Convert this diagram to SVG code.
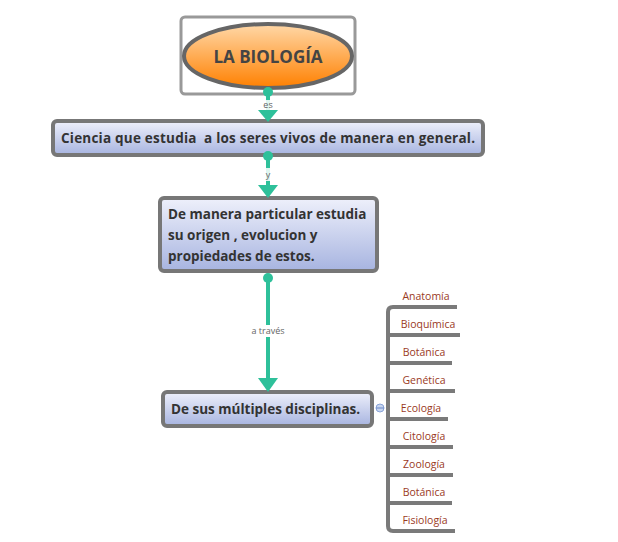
<svg xmlns="http://www.w3.org/2000/svg" width="618" height="542" viewBox="0 0 618 542">
<defs>
<linearGradient id="og" x1="0" y1="0" x2="0" y2="1"><stop offset="0" stop-color="#ffd8a8"/><stop offset="1" stop-color="#ff8000"/></linearGradient>
<linearGradient id="bg" x1="0" y1="0" x2="0" y2="1"><stop offset="0" stop-color="#eef0fb"/><stop offset="1" stop-color="#a7b4e0"/></linearGradient>
</defs>
<style>
.box{fill:url(#bg);stroke:#777;stroke-width:4}
.t{font-family:"Open Sans","DejaVu Sans",sans-serif;font-weight:bold;font-size:13.5px;fill:#333;white-space:pre}
.lbl{font-family:"Open Sans","DejaVu Sans",sans-serif;font-size:9px;fill:#666;text-anchor:middle}
.c{stroke:#2ec09a;stroke-width:4;fill:none}
.a{fill:#2ec09a}
.br{stroke:#7a7a7a;stroke-width:4;fill:none}
.d{font-family:"Open Sans","DejaVu Sans",sans-serif;font-size:10.5px;fill:#9a3a1e;text-anchor:middle}
</style>
<g id="n1"><rect x="181" y="17" width="174" height="77" rx="4" fill="#fff" stroke="#999" stroke-width="3"/><ellipse cx="268" cy="56" rx="84" ry="32" fill="url(#og)" stroke="#666" stroke-width="4"/><text x="268" y="63" text-anchor="middle" font-family="Open Sans,DejaVu Sans,sans-serif" font-weight="bold" font-size="17" fill="#444">LA BIOLOGÍA</text></g>
<g id="n2"><rect class="box" x="53" y="121" width="430" height="34" rx="4"/><text class="t" x="61" y="143" textLength="414" lengthAdjust="spacing">Ciencia que estudia  a los seres vivos de manera en general.</text></g>
<g id="n3"><rect class="box" x="160" y="198" width="217" height="73" rx="4"/><text class="t" x="168" y="219">De manera particular estudia</text><text class="t" x="168" y="240">su origen , evolucion y</text><text class="t" x="168" y="261">propiedades de estos.</text></g>
<g id="n4"><rect class="box" x="163" y="392" width="209" height="34" rx="4"/><text class="t" x="171" y="414">De sus múltiples disciplinas.</text></g>
<g id="disciplinas">
<path class="br" d="M457,307 H393 Q388,307 388,312 V526 Q388,531 393,531 H455"/>
<path class="br" d="M388,335 H460 M388,363 H452 M388,391 H455 M388,419 H448 M388,447 H453 M388,475 H453 M388,503 H452"/>
<text class="d" x="426" y="300">Anatomía</text>
<text class="d" x="428" y="328">Bioquímica</text>
<text class="d" x="424" y="356">Botánica</text>
<text class="d" x="424" y="384">Genética</text>
<text class="d" x="421" y="412">Ecología</text>
<text class="d" x="424" y="440">Citología</text>
<text class="d" x="424" y="468">Zoología</text>
<text class="d" x="424" y="496">Botánica</text>
<text class="d" x="425" y="524">Fisiología</text>
</g>
<g id="connectors">
<circle class="a" cx="268" cy="92" r="5"/><line class="c" x1="268" y1="92" x2="268" y2="110"/><polygon class="a" points="258,110 278,110 268,122"/>
<rect x="261" y="100" width="14" height="10" fill="#fff" opacity="0.85"/><text class="lbl" x="268" y="108">es</text>
<circle class="a" cx="268" cy="156" r="5"/><line class="c" x1="268" y1="156" x2="268" y2="186"/><polygon class="a" points="258,185 278,185 268,198"/>
<rect x="262" y="168" width="12" height="13" fill="#fff" opacity="0.85"/><text class="lbl" x="268" y="178">y</text>
<circle class="a" cx="268" cy="278" r="5"/><line class="c" x1="268" y1="278" x2="268" y2="380"/><polygon class="a" points="258,378 278,378 268,392"/>
<rect x="248" y="325" width="40" height="12" fill="#fff"/><text class="lbl" x="268" y="334">a través</text>
<circle cx="380" cy="408" r="4" fill="#c8d6f0" stroke="#8aa4d8"/>
<line x1="376" y1="408" x2="384" y2="408" stroke="#6a88c8"/>
</g>
</svg>
